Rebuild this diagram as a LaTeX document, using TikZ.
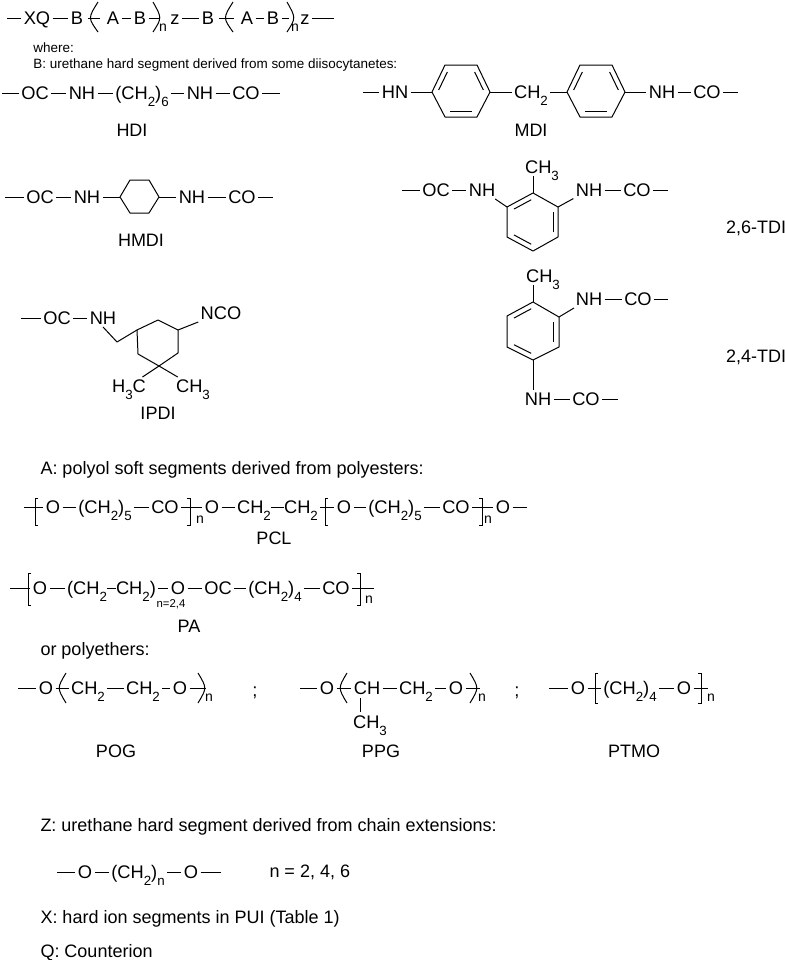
\documentclass[tikz,border=0pt]{standalone}
\usepackage{fontspec}
\setmainfont{Liberation Sans}
\usetikzlibrary{calc}
\newcommand{\ssub}[1]{\raisebox{-.36em}{\fontsize{10}{11}\selectfont #1}}
\tikzset{
  chem/.style={inner sep=1.5pt, text height=9.7pt, text depth=0pt, font=\fontsize{13.7}{15}\selectfont},
  idx/.style={inner sep=0pt, font=\fontsize{10.5}{11}\selectfont},
  tiny idx/.style={inner sep=0pt, font=\fontsize{8.5}{9}\selectfont},
  note/.style={inner sep=0pt, anchor=west, text height=9.7pt, text depth=2pt, font=\fontsize{13.5}{15}\selectfont},
  small note/.style={inner sep=0pt, anchor=west, text height=7.5pt, text depth=2pt, font=\fontsize{10.1}{11}\selectfont},
  inner bond/.style={shorten <=1.5pt, shorten >=1.5pt},
  tight bond/.style={shorten <=-1.5pt, shorten >=-1.5pt}
}
\begin{document}
\begin{tikzpicture}[x=.75pt, y=-.75pt, line width=.75pt]
\useasboundingbox (0,0) rectangle (785,960);
\coordinate (top0) at (7,18);
\node[chem] (top1) at (37,18){XQ};
\node[chem] (top2) at (77,18){B};
\node[chem] (top3) at (113,18){A};
\node[chem] (top4) at (140,18){B};
\node[idx] (top5) at (163,28){n};
\node[chem] (top6) at (175,18){z};
\node[chem] (top7) at (208,18){B};
\node[chem] (top8) at (247,18){A};
\node[chem] (top9) at (273,18){B};
\node[idx] (top10) at (295,28){n};
\node[chem] (top11) at (305,18){z};
\coordinate (top12) at (334,18);
\draw[](top0) -- (top1);
\draw[](top1) -- (top2);
\draw[shorten <=2pt, shorten >=3pt](top2) -- (top3);
\draw[](top3) -- (top4);
\draw[shorten >=7pt](top4) -- (top6);
\draw[](top6) -- (top7);
\draw[shorten <=2pt, shorten >=3pt](top7) -- (top8);
\draw[](top8) -- (top9);
\draw[shorten >=7pt](top9) -- (top11);
\draw[](top11) -- (top12);
\draw[](98,2) .. controls (88,18) .. (98,32);
\draw[](153,2) .. controls (162,18) .. (153,32);
\draw[](233,2) .. controls (223,18) .. (233,32);
\draw[](287,2) .. controls (296,18) .. (287,32);
\node[small note] (txt1) at (33,49){where:};
\node[small note] (txt2) at (33,65){B: urethane hard segment derived from some diisocytanetes:};
\coordinate (hdi0) at (2,93);
\node[chem] (hdi1) at (35,93){OC};
\node[chem] (hdi2) at (82,93){NH};
\node[chem] (hdi3) at (142,93){(CH\ssub{2})\ssub{6}};
\node[chem] (hdi4) at (200,93){NH};
\node[chem] (hdi5) at (246,93){CO};
\coordinate (hdi6) at (280,93);
\draw[](hdi0) -- (hdi1);
\draw[](hdi1) -- (hdi2);
\draw[](hdi2) -- (hdi3);
\draw[](hdi3) -- (hdi4);
\draw[](hdi4) -- (hdi5);
\draw[](hdi5) -- (hdi6);
\node[note, anchor=center] (hdi) at (132,131){HDI};
\coordinate (mdi0) at (363,92);
\node[chem] (mdi1) at (395,92){HN};
\coordinate (r1a) at (432,92);
\coordinate (r1b) at (445,65);
\coordinate (r1c) at (477,65);
\coordinate (r1d) at (490,92);
\coordinate (r1e) at (477,117);
\coordinate (r1f) at (445,117);
\coordinate (c1) at (461,91);
\draw[line join=round](r1a) -- (r1b) -- (r1c) -- (r1d) -- (r1e) -- (r1f) -- cycle;
\draw[inner bond]($(c1)!.8!(r1a)$) -- ($(c1)!.8!(r1b)$);
\draw[inner bond]($(c1)!.8!(r1c)$) -- ($(c1)!.8!(r1d)$);
\draw[inner bond]($(c1)!.8!(r1e)$) -- ($(c1)!.8!(r1f)$);
\node[chem] (mdi2) at (531,92){CH\ssub{2}};
\coordinate (r2a) at (567,92);
\coordinate (r2b) at (580,65);
\coordinate (r2c) at (612,65);
\coordinate (r2d) at (625,92);
\coordinate (r2e) at (612,117);
\coordinate (r2f) at (580,117);
\coordinate (c2) at (596,91);
\draw[line join=round](r2a) -- (r2b) -- (r2c) -- (r2d) -- (r2e) -- (r2f) -- cycle;
\draw[inner bond]($(c2)!.8!(r2a)$) -- ($(c2)!.8!(r2b)$);
\draw[inner bond]($(c2)!.8!(r2c)$) -- ($(c2)!.8!(r2d)$);
\draw[inner bond]($(c2)!.8!(r2e)$) -- ($(c2)!.8!(r2f)$);
\node[chem] (mdi3) at (662,92){NH};
\node[chem] (mdi4) at (707,92){CO};
\coordinate (mdi5) at (738,92);
\draw[](mdi0) -- (mdi1);
\draw[](mdi1) -- (r1a);
\draw[](r1d) -- (mdi2);
\draw[](mdi2) -- (r2a);
\draw[](r2d) -- (mdi3);
\draw[](mdi3) -- (mdi4);
\draw[](mdi4) -- (mdi5);
\node[note, anchor=center] (mdi) at (531,131){MDI};
\coordinate (hm0) at (5,197);
\node[chem] (hm1) at (40,197){OC};
\node[chem] (hm2) at (87,197){NH};
\coordinate (r3a) at (120,197);
\coordinate (r3b) at (130,180);
\coordinate (r3c) at (149,180);
\coordinate (r3d) at (159,197);
\coordinate (r3e) at (149,213);
\coordinate (r3f) at (130,213);
\draw[line join=round](r3a) -- (r3b) -- (r3c) -- (r3d) -- (r3e) -- (r3f) -- cycle;
\node[chem] (hm3) at (192,197){NH};
\node[chem] (hm4) at (242,197){CO};
\coordinate (hm5) at (273,197);
\draw[](hm0) -- (hm1);
\draw[](hm1) -- (hm2);
\draw[](hm2) -- (r3a);
\draw[](r3d) -- (hm3);
\draw[](hm3) -- (hm4);
\draw[](hm4) -- (hm5);
\node[note, anchor=center] (hmdi) at (141,241){HMDI};
\coordinate (ip0) at (21,318);
\node[chem] (ip1) at (57,318){OC};
\node[chem] (ip2) at (103,318){NH};
\coordinate (ipm) at (117,342);
\coordinate (r4a) at (137,330);
\coordinate (r4b) at (158,320);
\coordinate (r4c) at (178,330);
\coordinate (r4d) at (178,353);
\coordinate (r4e) at (159,366);
\coordinate (r4f) at (138,354);
\draw[line join=round](r4a) -- (r4b) -- (r4c) -- (r4d) -- (r4e) -- (r4f) -- cycle;
\node[chem] (ip3) at (221,313){NCO};
\node[chem] (ip4) at (129,386){H\ssub{3}C};
\node[chem] (ip5) at (193,386){CH\ssub{3}};
\draw[](ip0) -- (ip1);
\draw[](ip1) -- (ip2);
\draw[line join=round](ip2.south) -- (ipm) -- (r4a);
\draw[](r4c) -- (ip3);
\draw[](r4e) -- (ip4);
\draw[](r4e) -- (ip5);
\node[note, anchor=center] (ipdi) at (158,414){IPDI};
\coordinate (tb0) at (402,190);
\node[chem] (tb1) at (436,190){OC};
\node[chem] (tb2) at (482,190){NH};
\coordinate (r5a) at (533,193);
\coordinate (r5b) at (558,207);
\coordinate (r5c) at (558,237);
\coordinate (r5d) at (533,251);
\coordinate (r5e) at (507,237);
\coordinate (r5f) at (507,207);
\coordinate (c5) at (533,222);
\draw[line join=round](r5a) -- (r5b) -- (r5c) -- (r5d) -- (r5e) -- (r5f) -- cycle;
\draw[inner bond]($(c5)!.8!(r5f)$) -- ($(c5)!.8!(r5a)$);
\draw[inner bond]($(c5)!.8!(r5b)$) -- ($(c5)!.8!(r5c)$);
\draw[inner bond]($(c5)!.8!(r5d)$) -- ($(c5)!.8!(r5e)$);
\node[chem] (tb3) at (542,167){CH\ssub{3}};
\node[chem] (tb4) at (589,190){NH};
\node[chem] (tb5) at (637,190){CO};
\coordinate (tb6) at (668,190);
\draw[](tb0) -- (tb1);
\draw[](tb1) -- (tb2);
\draw[](r5f) -- (tb2);
\draw[](r5a) -- (r5a |- tb3.south);
\draw[](r5b) -- (tb4);
\draw[](tb4) -- (tb5);
\draw[](tb5) -- (tb6);
\node[note, anchor=center] (tdib) at (756,228){2,6-TDI};
\node[chem] (tc1) at (543,276){CH\ssub{3}};
\coordinate (r6a) at (533,302);
\coordinate (r6b) at (559,317);
\coordinate (r6c) at (559,347);
\coordinate (r6d) at (533,360);
\coordinate (r6e) at (507,347);
\coordinate (r6f) at (507,316);
\coordinate (c6) at (533,331);
\draw[line join=round](r6a) -- (r6b) -- (r6c) -- (r6d) -- (r6e) -- (r6f) -- cycle;
\draw[inner bond]($(c6)!.8!(r6f)$) -- ($(c6)!.8!(r6a)$);
\draw[inner bond]($(c6)!.8!(r6b)$) -- ($(c6)!.8!(r6c)$);
\draw[inner bond]($(c6)!.8!(r6d)$) -- ($(c6)!.8!(r6e)$);
\node[chem] (tc2) at (589,299){NH};
\node[chem] (tc3) at (638,299){CO};
\coordinate (tc4) at (668,299);
\node[chem] (tc5) at (538,399){NH};
\node[chem] (tc6) at (586,399){CO};
\coordinate (tc7) at (618,399);
\draw[](r6a) -- (r6a |- tc1.south);
\draw[](r6b) -- (tc2);
\draw[](tc2) -- (tc3);
\draw[](tc3) -- (tc4);
\draw[](r6d) -- (r6d |- tc5.north);
\draw[](tc5) -- (tc6);
\draw[](tc6) -- (tc7);
\node[note, anchor=center] (tdic) at (756,357){2,4-TDI};
\node[note] (txt3) at (40,469){A: polyol soft segments derived from polyesters:};
\coordinate (pcl0) at (24,507);
\node[chem] (pcl1) at (53,507){O};
\node[chem] (pcl2) at (105,507){(CH\ssub{2})\ssub{5}};
\node[chem] (pcl3) at (165,507){CO};
\node[idx] (pcl4) at (200,520){n};
\node[chem] (pcl5) at (212,507){O};
\node[chem] (pcl6) at (254,507){CH\ssub{2}};
\node[chem] (pcl7) at (301,507){CH\ssub{2}};
\node[chem] (pcl8) at (344,507){O};
\node[chem] (pcl9) at (395,507){(CH\ssub{2})\ssub{5}};
\node[chem] (pcl10) at (456,507){CO};
\node[idx] (pcl11) at (488,520){n};
\node[chem] (pcl12) at (503,507){O};
\coordinate (pcl13) at (527,507);
\draw[](pcl0) -- (pcl1);
\draw[](pcl1) -- (pcl2);
\draw[](pcl2) -- (pcl3);
\draw[](pcl3) -- (pcl5);
\draw[](pcl5) -- (pcl6);
\draw[tight bond](pcl6) -- (pcl7);
\draw[](pcl7) -- (pcl8);
\draw[](pcl8) -- (pcl9);
\draw[](pcl9) -- (pcl10);
\draw[](pcl10) -- (pcl12);
\draw[](pcl12) -- (pcl13);
\draw[](38,498) -- (35,498) -- (35,525) -- (38,525);
\draw[](187,498) -- (190,498) -- (190,525) -- (187,525);
\draw[](328,498) -- (325,498) -- (325,525) -- (328,525);
\draw[](479,498) -- (482,498) -- (482,525) -- (479,525);
\node[note, anchor=center] (pcl) at (274,539){PCL};
\coordinate (pa0) at (10,588);
\node[chem] (pa1) at (40,588){O};
\node[chem] (pa2) at (87,588){(CH\ssub{2}};
\node[chem] (pa3) at (136,588){CH\ssub{2})};
\node[tiny idx] (pa4) at (171,604){n=2,4};
\node[chem] (pa5) at (178,588){O};
\node[chem] (pa6) at (218,588){OC};
\node[chem] (pa7) at (275,588){(CH\ssub{2})\ssub{4}};
\node[chem] (pa8) at (336,588){CO};
\node[idx] (pa9) at (369,600){n};
\coordinate (pa10) at (374,588);
\draw[](pa0) -- (pa1);
\draw[](pa1) -- (pa2);
\draw[tight bond](pa2) -- (pa3);
\draw[](pa3) -- (pa5);
\draw[](pa5) -- (pa6);
\draw[](pa6) -- (pa7);
\draw[](pa7) -- (pa8);
\draw[](pa8) -- (pa10);
\draw[](31,573) -- (28,573) -- (28,605) -- (31,605);
\draw[](357,573) -- (360,573) -- (360,605) -- (357,605);
\node[note, anchor=center] (pa) at (189,627){PA};
\node[note] (txt4) at (40,650){or polyethers:};
\coordinate (pog0) at (18,688);
\node[chem] (pog1) at (46,688){O};
\node[chem] (pog2) at (88,688){CH\ssub{2}};
\node[chem] (pog3) at (143,688){CH\ssub{2}};
\node[chem] (pog4) at (180,688){O};
\node[idx] (pog5) at (209,698){n};
\coordinate (pog6) at (206,688);
\draw[](pog0) -- (pog1);
\draw[](pog1) -- (pog2);
\draw[](pog2) -- (pog3);
\draw[](pog3) -- (pog4);
\draw[](pog4) -- (pog6);
\draw[](66,673) .. controls (57,688) .. (66,703);
\draw[](198,673) .. controls (207,688) .. (198,703);
\node[chem] (sep1) at (255,690){;};
\node[note, anchor=center] (pog) at (116,752){POG};
\coordinate (ppg0) at (300,688);
\node[chem] (ppg1) at (327,688){O};
\node[chem] (ppg2) at (367,688){CH};
\node[chem] (ppg3) at (416,688){CH\ssub{2}};
\node[chem] (ppg4) at (456,688){O};
\node[idx] (ppg5) at (482,698){n};
\coordinate (ppg6) at (480,688);
\node[chem] (ppg7) at (370,722){CH\ssub{3}};
\coordinate (ppgt) at (360,698);
\coordinate (ppgb) at (360,712);
\draw[](ppg0) -- (ppg1);
\draw[](ppg1) -- (ppg2);
\draw[](ppg2) -- (ppg3);
\draw[](ppg3) -- (ppg4);
\draw[](ppg4) -- (ppg6);
\draw[](ppgt) -- (ppgb);
\draw[](347,673) .. controls (338,688) .. (347,703);
\draw[](470,673) .. controls (479,688) .. (470,703);
\node[chem] (sep2) at (517,690){;};
\node[note, anchor=center] (ppg) at (381,752){PPG};
\coordinate (pt0) at (549,688);
\node[chem] (pt1) at (578,688){O};
\node[chem] (pt2) at (630,688){(CH\ssub{2})\ssub{4}};
\node[chem] (pt3) at (684,688){O};
\node[idx] (pt4) at (711,698){n};
\coordinate (pt5) at (708,688);
\draw[](pt0) -- (pt1);
\draw[](pt1) -- (pt2);
\draw[](pt2) -- (pt3);
\draw[](pt3) -- (pt5);
\draw[](598,673) -- (595,673) -- (595,703) -- (598,703);
\draw[](698,673) -- (701,673) -- (701,703) -- (698,703);
\node[note, anchor=center] (ptmo) at (634,752){PTMO};
\node[note] (txt5) at (40,826){Z: urethane hard segment derived from chain extensions:};
\coordinate (ext0) at (57,872);
\node[chem] (ext1) at (85,872){O};
\node[chem] (ext2) at (138,872){(CH\ssub{2})\ssub{n}};
\node[chem] (ext3) at (191,872){O};
\coordinate (ext4) at (221,872);
\draw[](ext0) -- (ext1);
\draw[](ext1) -- (ext2);
\draw[](ext2) -- (ext3);
\draw[](ext3) -- (ext4);
\node[note] (txt6) at (269,872){n = 2, 4, 6};
\node[note] (txt7) at (40,918){X: hard ion segments in PUI (Table 1)};
\node[note] (txt8) at (40,952){Q: Counterion};
\end{tikzpicture}
\end{document}
